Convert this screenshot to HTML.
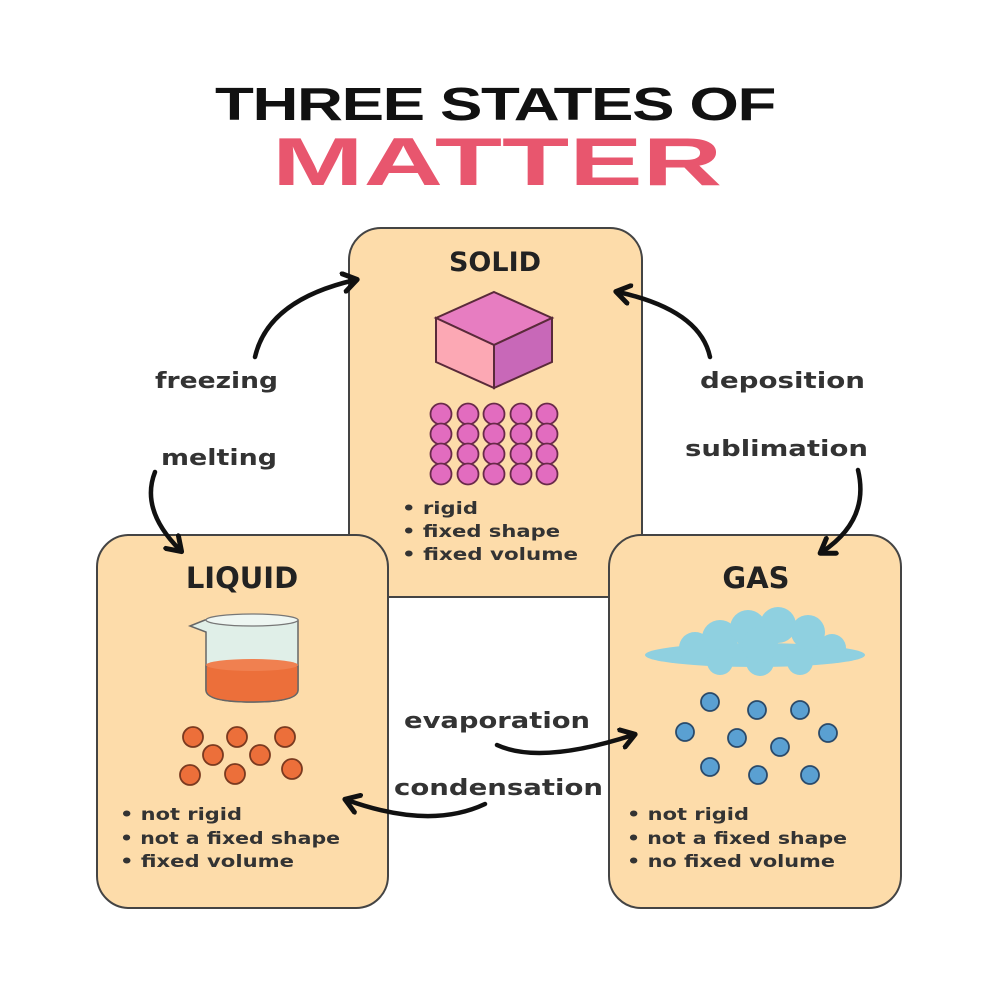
<!DOCTYPE html>
<html><head><meta charset="utf-8"><style>
html,body{margin:0;padding:0;background:#fff;width:1000px;height:1000px;overflow:hidden}
svg{display:block}
text{font-family:"DejaVu Sans","Liberation Sans",sans-serif}
</style></head><body>
<svg width="1000" height="1000" viewBox="0 0 1000 1000" xmlns="http://www.w3.org/2000/svg">
<defs>
<marker id="ah" viewBox="0 0 10 10" refX="6" refY="5" markerWidth="5" markerHeight="5" orient="auto-start-reverse">
<path d="M1,1 L7,5 L1,9" fill="none" stroke="#111" stroke-width="2.2" stroke-linecap="round" stroke-linejoin="round"/>
</marker>
</defs>
<text x="495" y="120" text-anchor="middle" font-size="46" font-weight="900" fill="#111" style="font-family:'Liberation Sans',sans-serif;letter-spacing:-1px" textLength="560" lengthAdjust="spacingAndGlyphs">THREE STATES OF</text>
<text x="497" y="185" text-anchor="middle" font-size="68" font-weight="900" fill="#e8566e" style="font-family:'Liberation Sans',sans-serif" textLength="450" lengthAdjust="spacingAndGlyphs">MATTER</text>

<!-- solid box -->
<rect x="349" y="228" width="293" height="369" rx="32" fill="#fddcaa" stroke="#444" stroke-width="2"/>
<text x="495" y="271" text-anchor="middle" font-size="27" font-weight="bold" fill="#222">SOLID</text>
<polygon points="494,292 552,318 494,345 436,318" fill="#e77dc1" stroke="#5a2a3a" stroke-width="2"/>
<polygon points="436,318 494,345 494,388 436,362" fill="#fca8b4" stroke="#5a2a3a" stroke-width="2"/>
<polygon points="494,345 552,318 552,362 494,388" fill="#c868b8" stroke="#5a2a3a" stroke-width="2"/>
<g fill="#e26cbf" stroke="#6a2a4a" stroke-width="1.8">
<circle cx="441" cy="414" r="10.5"/><circle cx="468" cy="414" r="10.5"/><circle cx="494" cy="414" r="10.5"/><circle cx="521" cy="414" r="10.5"/><circle cx="547" cy="414" r="10.5"/>
<circle cx="441" cy="434" r="10.5"/><circle cx="468" cy="434" r="10.5"/><circle cx="494" cy="434" r="10.5"/><circle cx="521" cy="434" r="10.5"/><circle cx="547" cy="434" r="10.5"/>
<circle cx="441" cy="454" r="10.5"/><circle cx="468" cy="454" r="10.5"/><circle cx="494" cy="454" r="10.5"/><circle cx="521" cy="454" r="10.5"/><circle cx="547" cy="454" r="10.5"/>
<circle cx="441" cy="474" r="10.5"/><circle cx="468" cy="474" r="10.5"/><circle cx="494" cy="474" r="10.5"/><circle cx="521" cy="474" r="10.5"/><circle cx="547" cy="474" r="10.5"/>
</g>
<g font-size="17" font-weight="bold" fill="#333">
<text x="402" y="514" textLength="76" lengthAdjust="spacingAndGlyphs">• rigid</text><text x="402" y="537" textLength="158" lengthAdjust="spacingAndGlyphs">• fixed shape</text><text x="402" y="560" textLength="176" lengthAdjust="spacingAndGlyphs">• fixed volume</text>
</g>

<!-- liquid box -->
<rect x="97" y="535" width="291" height="373" rx="32" fill="#fddcaa" stroke="#444" stroke-width="2"/>
<text x="242" y="588" text-anchor="middle" font-size="29" font-weight="bold" fill="#222">LIQUID</text>
<path d="M190,626 L205,620 Q252,610 298,620 L298,690 Q298,702 252,702 Q206,702 206,690 L206,632 Z" fill="#e0efe8" stroke="#666" stroke-width="1.5"/>
<ellipse cx="252" cy="620" rx="46" ry="6" fill="#eef6f2" stroke="#777" stroke-width="1.3"/>
<path d="M206,666 Q252,656 298,666 L298,690 Q298,702 252,702 Q206,702 206,690 Z" fill="#ec6f3a" stroke="#666" stroke-width="1.5"/>
<ellipse cx="252" cy="665" rx="46" ry="6" fill="#f08050"/>
<g fill="#ec6f3a" stroke="#7a3a20" stroke-width="1.8">
<circle cx="193" cy="737" r="10"/><circle cx="237" cy="737" r="10"/><circle cx="285" cy="737" r="10"/>
<circle cx="213" cy="755" r="10"/><circle cx="260" cy="755" r="10"/>
<circle cx="190" cy="775" r="10"/><circle cx="235" cy="774" r="10"/><circle cx="292" cy="769" r="10"/>
</g>
<g font-size="17" font-weight="bold" fill="#333">
<text x="120" y="820" textLength="122" lengthAdjust="spacingAndGlyphs">• not rigid</text><text x="120" y="844" textLength="220" lengthAdjust="spacingAndGlyphs">• not a fixed shape</text><text x="120" y="867" textLength="174" lengthAdjust="spacingAndGlyphs">• fixed volume</text>
</g>

<!-- gas box -->
<rect x="609" y="535" width="292" height="373" rx="32" fill="#fddcaa" stroke="#444" stroke-width="2"/>
<text x="756" y="588" text-anchor="middle" font-size="29" font-weight="bold" fill="#222">GAS</text>
<g fill="#8fd0e0">
<ellipse cx="755" cy="655" rx="110" ry="12"/>
<circle cx="695" cy="648" r="16"/><circle cx="720" cy="638" r="18"/><circle cx="748" cy="628" r="18"/><circle cx="778" cy="625" r="18"/><circle cx="808" cy="632" r="17"/><circle cx="832" cy="648" r="14"/><circle cx="720" cy="662" r="13"/><circle cx="760" cy="662" r="14"/><circle cx="800" cy="662" r="13"/><circle cx="760" cy="645" r="18"/>
</g>
<g fill="#5aa0d2" stroke="#2a4a6a" stroke-width="1.8">
<circle cx="710" cy="702" r="9"/><circle cx="757" cy="710" r="9"/><circle cx="800" cy="710" r="9"/>
<circle cx="685" cy="732" r="9"/><circle cx="737" cy="738" r="9"/><circle cx="780" cy="747" r="9"/><circle cx="828" cy="733" r="9"/>
<circle cx="710" cy="767" r="9"/><circle cx="758" cy="775" r="9"/><circle cx="810" cy="775" r="9"/>
</g>
<g font-size="17" font-weight="bold" fill="#333">
<text x="627" y="820" textLength="122" lengthAdjust="spacingAndGlyphs">• not rigid</text><text x="627" y="844" textLength="220" lengthAdjust="spacingAndGlyphs">• not a fixed shape</text><text x="627" y="867" textLength="208" lengthAdjust="spacingAndGlyphs">• no fixed volume</text>
</g>

<!-- labels -->
<g font-size="22" font-weight="bold" fill="#333">
<text x="155" y="388" textLength="123" lengthAdjust="spacingAndGlyphs">freezing</text>
<text x="161" y="465" textLength="116" lengthAdjust="spacingAndGlyphs">melting</text>
<text x="700" y="388" textLength="165" lengthAdjust="spacingAndGlyphs">deposition</text>
<text x="685" y="456" textLength="183" lengthAdjust="spacingAndGlyphs">sublimation</text>
<text x="404" y="728" textLength="186" lengthAdjust="spacingAndGlyphs">evaporation</text>
<text x="394" y="795" textLength="209" lengthAdjust="spacingAndGlyphs">condensation</text>
</g>

<!-- arrows -->
<g fill="none" stroke="#111" stroke-width="4.5" stroke-linecap="round" marker-end="url(#ah)">
<path d="M255,357 Q268,300 355,280"/>
<path d="M710,357 Q700,310 618,292"/>
<path d="M155,472 Q140,510 180,550"/>
<path d="M858,470 Q870,520 822,552"/>
<path d="M497,745 Q540,765 633,735"/>
<path d="M485,804 Q430,830 347,800"/>
</g>
</svg>
</body></html>
